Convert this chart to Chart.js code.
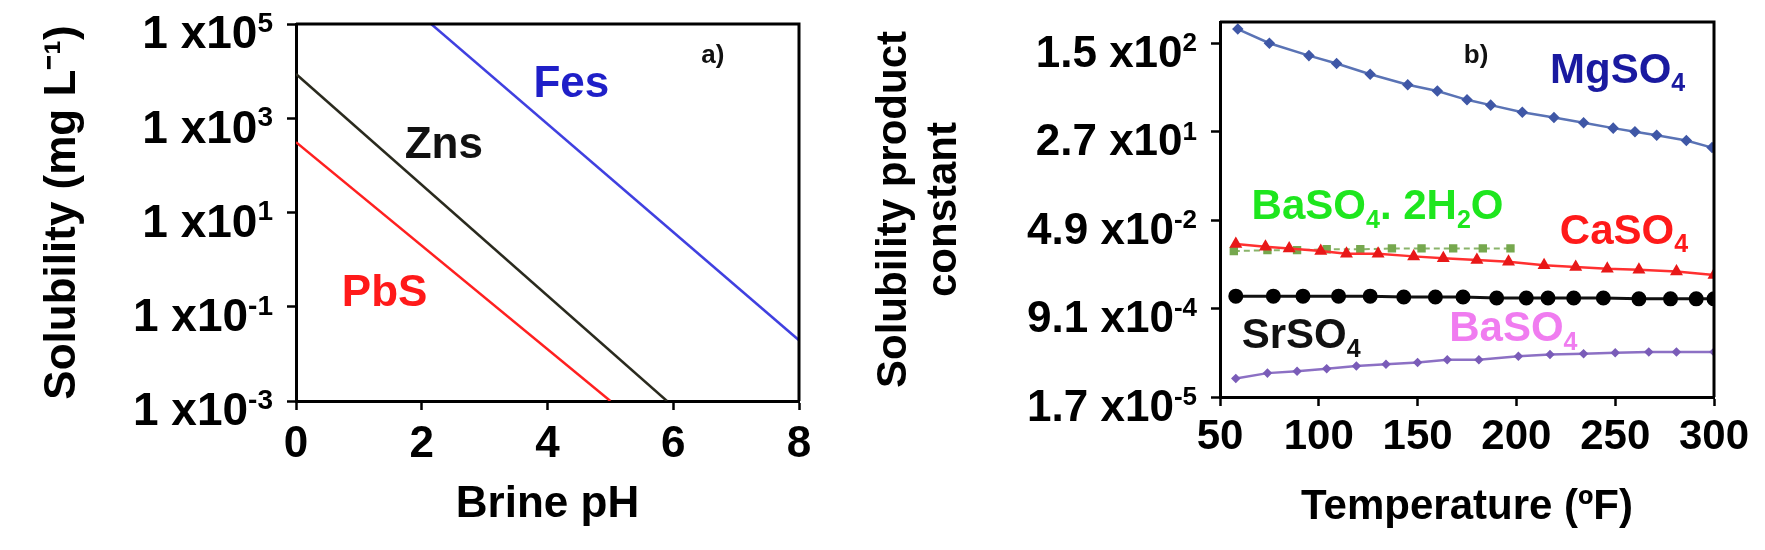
<!DOCTYPE html>
<html>
<head>
<meta charset="utf-8">
<script src="https://cdn.jsdelivr.net/npm/chart.js@4.4.1/dist/chart.umd.min.js"></script>
<style>
  html, body { margin: 0; padding: 0; background: #fff; }
  #wrap { position: relative; width: 1765px; height: 550px; }
  #boxA { position: absolute; left: 0; top: 0; width: 830px; height: 550px; }
  #boxB { position: absolute; left: 830px; top: 0; width: 935px; height: 550px; }
</style>
</head>
<body>
<div id="wrap">
  <div id="boxA"><canvas id="chartA"></canvas></div>
  <div id="boxB"><canvas id="chartB"></canvas></div>
</div>
<script>
// ---- panel a: solubility vs brine pH (log axis) ----
const phPbS = [0, 5.0];
const solPbS = [310, 0.001];
const phZnS = [0, 5.9];
const solZnS = [8700, 0.001];
const phFeS = [2.15, 8];
const solFeS = [100000, 0.0195];
const solTicks = [0.001, 0.1, 10, 1000, 100000];
const solTickLabels = ["1 x10^-3", "1 x10^-1", "1 x10^1", "1 x10^3", "1 x10^5"];

// ---- panel b: solubility product constant vs temperature ----
// y values are read as positions on the (evenly spaced) labelled axis, 0 = bottom tick
const kspTicks = [0, 1, 2, 3, 4];
const kspTickLabels = ["1.7 x10^-5", "9.1 x10^-4", "4.9 x10^-2", "2.7 x10^1", "1.5 x10^2"];
const tempMg = [59, 75, 95, 109, 126, 145, 160, 175, 187, 203, 219, 234, 249, 260, 271, 286, 299];
const kspMg = [4.16, 4.00, 3.86, 3.77, 3.65, 3.53, 3.46, 3.36, 3.30, 3.22, 3.16, 3.10, 3.04, 3.00, 2.96, 2.90, 2.82];
const tempCa = [58, 73, 85, 101, 114, 130, 148, 163, 180, 196, 214, 230, 246, 262, 281, 300];
const kspCa = [1.73, 1.70, 1.68, 1.65, 1.62, 1.62, 1.59, 1.57, 1.55, 1.53, 1.49, 1.47, 1.45, 1.44, 1.42, 1.38];
const tempHyd = [57, 74, 89, 104, 121, 137, 152, 168, 183, 197];
const kspHyd = [1.65, 1.66, 1.66, 1.67, 1.67, 1.68, 1.68, 1.68, 1.68, 1.68];
const tempSr = [58, 77, 92, 110, 126, 143, 159, 173, 190, 205, 216, 229, 244, 262, 278, 291, 300];
const kspSr = [1.14, 1.14, 1.14, 1.14, 1.14, 1.13, 1.13, 1.13, 1.12, 1.12, 1.12, 1.12, 1.12, 1.11, 1.11, 1.11, 1.11];
const tempBa = [58, 74, 89, 104, 119, 134, 150, 165, 181, 201, 217, 234, 250, 267, 281, 300];
const kspBa = [0.21, 0.27, 0.29, 0.32, 0.35, 0.37, 0.39, 0.42, 0.42, 0.46, 0.48, 0.49, 0.50, 0.51, 0.51, 0.51];

const FONT = "'Liberation Sans', Arial, Helvetica, sans-serif";
Chart.defaults.font.family = FONT;
Chart.defaults.font.weight = "bold";
Chart.defaults.color = "#000";

function pts(xs, ys) {
  return xs.map((x, i) => ({ x: x, y: ys[i] }));
}

// text with "_4" subscripts and a trailing "^.." superscript; y is the centre of the capitals
function drawRich(ctx, str, x, y, size, color, align) {
  const parts = [];
  for (let i = 0; i < str.length; i++) {
    if (str[i] === "_") { parts.push({ t: str[i + 1], k: "sub" }); i++; }
    else if (str[i] === "^") { parts.push({ t: str.slice(i + 1), k: "sup" }); break; }
    else parts.push({ t: str[i], k: "" });
  }
  const big = "bold " + size + "px " + FONT;
  const small = "bold " + Math.round(size * 0.6) + "px " + FONT;
  let w = 0;
  parts.forEach(p => { ctx.font = p.k ? small : big; p.w = ctx.measureText(p.t).width; w += p.w; });
  let cx = x;
  if (align === "center") cx = x - w / 2;
  if (align === "right") cx = x - w;
  const base = y + size * 0.358;
  ctx.fillStyle = color;
  ctx.textBaseline = "alphabetic";
  ctx.textAlign = "left";
  parts.forEach(p => {
    ctx.font = p.k ? small : big;
    let by = base;
    if (p.k === "sub") by = base + size * 0.2;
    if (p.k === "sup") by = base - size * 0.36;
    ctx.fillText(p.t, cx, by);
    cx += p.w;
  });
}

// frame, y tick labels (at the scale's tick positions) and the in-plot notes
function notesPlugin(notes, tickVals, tickLabels, tickSize) {
  return {
    id: "notes",
    afterDraw(chart) {
      const { ctx, chartArea: a, scales } = chart;
      ctx.save();
      ctx.strokeStyle = "#000";
      ctx.lineWidth = 3;
      ctx.beginPath();
      ctx.moveTo(a.left, a.top);
      ctx.lineTo(a.right, a.top);
      ctx.lineTo(a.right, a.bottom);
      ctx.stroke();
      const ys = scales.y;
      tickVals.forEach((v, i) => {
        drawRich(ctx, tickLabels[i], ys.right - 23, ys.getPixelForValue(v) + 8, tickSize, "#000", "right");
      });
      notes.forEach(n => {
        drawRich(ctx, n.text, scales.x.getPixelForValue(n.x), scales.y.getPixelForValue(n.y), n.size, n.color, n.align);
      });
      ctx.restore();
    }
  };
}

const axisGrid = { display: true, drawOnChartArea: false, drawTicks: true, tickLength: 9, tickWidth: 2.5, tickColor: "#000", color: "#000" };
const axisBorder = { display: true, color: "#000", width: 3 };

// ---------- chart a ----------
new Chart(document.getElementById("chartA"), {
  type: "line",
  data: {
    datasets: [
      { label: "PbS", data: pts(phPbS, solPbS), borderColor: "#ff2020", borderWidth: 2.5, pointRadius: 0 },
      { label: "ZnS", data: pts(phZnS, solZnS), borderColor: "#2a2a1e", borderWidth: 2.5, pointRadius: 0 },
      { label: "FeS", data: pts(phFeS, solFeS), borderColor: "#4040e0", borderWidth: 2.5, pointRadius: 0 }
    ]
  },
  options: {
    responsive: true,
    maintainAspectRatio: false,
    animation: false,
    devicePixelRatio: 1,
    layout: { padding: { top: 24, right: 31, left: 0, bottom: 0 } },
    plugins: { legend: { display: false }, tooltip: { enabled: false } },
    scales: {
      x: {
        type: "linear", min: 0, max: 8,
        grid: axisGrid, border: axisBorder,
        ticks: { stepSize: 2, autoSkip: false, padding: 8, font: { size: 44, weight: "bold" } },
        title: { display: true, text: "Brine pH", font: { size: 44, weight: "bold" }, padding: { top: 0, bottom: 19 } },
        afterFit: s => { s.height = 149; s.paddingLeft = 0; s.paddingRight = 0; }
      },
      y: {
        type: "logarithmic", min: 0.001, max: 100000,
        grid: axisGrid, border: axisBorder,
        afterBuildTicks: s => { s.ticks = solTicks.map(v => ({ value: v })); },
        ticks: { display: false },
        title: { display: true, text: "Solubility (mg L⁻¹)", font: { size: 44, weight: "bold" }, padding: { top: 36, bottom: 0 } },
        afterFit: s => { s.width = 296; s.paddingTop = 0; s.paddingBottom = 0; }
      }
    }
  },
  plugins: [notesPlugin([
    { text: "Fes", x: 4.38, y: 6166, size: 44, color: "#1f1fc8", align: "center" },
    { text: "Zns", x: 2.35, y: 316, size: 44, color: "#111", align: "center" },
    { text: "PbS", x: 1.41, y: 0.229, size: 44, color: "#ff1a1a", align: "center" },
    { text: "a)", x: 6.63, y: 22900, size: 26, color: "#111", align: "center" }
  ], solTicks, solTickLabels, 46)]
});

// ---------- chart b ----------
new Chart(document.getElementById("chartB"), {
  type: "line",
  data: {
    datasets: [
      { label: "MgSO4", data: pts(tempMg, kspMg), borderColor: "#5a73b5", borderWidth: 2.5,
        pointStyle: "rectRot", pointRadius: 4, pointBackgroundColor: "#3f57a6", pointBorderColor: "#3f57a6", order: 1 },
      { label: "CaSO4", data: pts(tempCa, kspCa), borderColor: "#ff3030", borderWidth: 2.5,
        pointStyle: "triangle", pointRadius: 5, pointBackgroundColor: "#e81818", pointBorderColor: "#e81818", order: 2 },
      { label: "BaSO4.2H2O", data: pts(tempHyd, kspHyd), borderColor: "#8ab46a", borderWidth: 2, borderDash: [6, 4],
        pointStyle: "rect", pointRadius: 4.5, pointBackgroundColor: "#76a84e", pointBorderColor: "#76a84e", order: 3 },
      { label: "SrSO4", data: pts(tempSr, kspSr), borderColor: "#111", borderWidth: 3,
        pointStyle: "circle", pointRadius: 6, pointBackgroundColor: "#000", pointBorderColor: "#000", order: 4 },
      { label: "BaSO4", data: pts(tempBa, kspBa), borderColor: "#8c70c4", borderWidth: 2.5,
        pointStyle: "rectRot", pointRadius: 3, pointBackgroundColor: "#7a5cb8", pointBorderColor: "#7a5cb8", order: 5 }
    ]
  },
  options: {
    responsive: true,
    maintainAspectRatio: false,
    animation: false,
    devicePixelRatio: 1,
    layout: { padding: { top: 22, right: 51, left: 0, bottom: 0 } },
    plugins: { legend: { display: false }, tooltip: { enabled: false } },
    scales: {
      x: {
        type: "linear", min: 50, max: 300,
        grid: axisGrid, border: axisBorder,
        ticks: { stepSize: 50, autoSkip: false, padding: 6, font: { size: 42, weight: "bold" } },
        title: { display: true, text: "Temperature (ºF)", font: { size: 42, weight: "bold" }, padding: { top: 0, bottom: 17 } },
        afterFit: s => { s.height = 153; s.paddingLeft = 0; s.paddingRight = 0; }
      },
      y: {
        type: "linear", min: 0, max: 4.24,
        grid: axisGrid, border: axisBorder,
        afterBuildTicks: s => { s.ticks = kspTicks.map(v => ({ value: v })); },
        ticks: { display: false },
        title: { display: true, text: ["Solubility product", "constant"], font: { size: 42, weight: "bold" }, padding: { top: 39, bottom: 0 } },
        afterFit: s => { s.width = 390; s.paddingTop = 0; s.paddingBottom = 0; }
      }
    }
  },
  plugins: [notesPlugin([
    { text: "b)", x: 179.6, y: 3.88, size: 26, color: "#111", align: "center" },
    { text: "MgSO_4", x: 217, y: 3.72, size: 42, color: "#1a1aa0", align: "left" },
    { text: "BaSO_4. 2H_2O", x: 66, y: 2.18, size: 42, color: "#1ee61e", align: "left" },
    { text: "CaSO_4", x: 222, y: 1.90, size: 42, color: "#ff1a1a", align: "left" },
    { text: "SrSO_4", x: 61, y: 0.72, size: 42, color: "#111", align: "left" },
    { text: "BaSO_4", x: 166, y: 0.80, size: 42, color: "#f07cf0", align: "left" }
  ], kspTicks, kspTickLabels, 44)]
});
</script>
</body>
</html>
